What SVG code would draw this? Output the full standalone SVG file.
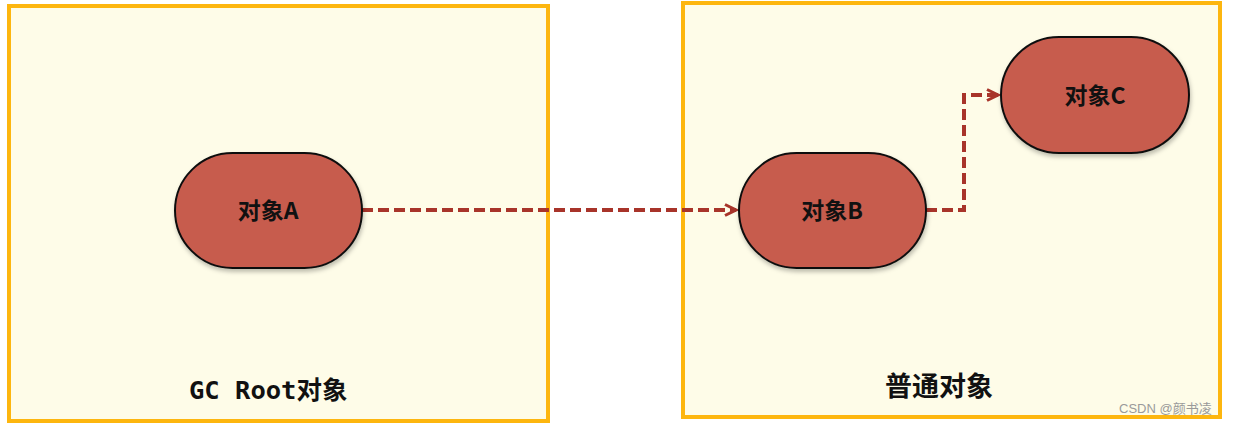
<svg xmlns="http://www.w3.org/2000/svg" width="1234" height="424" viewBox="0 0 1234 424">
<style>
.box{fill:#FEFCE8;stroke:#FDB60F;stroke-width:4}
.node{fill:#C75B4E;stroke:#111;stroke-width:2}
.nt{font-family:"Noto Sans CJK SC","DejaVu Sans",sans-serif;font-weight:bold;font-size:23px;fill:#111;text-anchor:middle}
.title{font-family:"DejaVu Sans Mono","Noto Sans CJK SC",monospace;font-weight:bold;font-size:25.5px;fill:#111}
.title2{font-family:"Noto Sans CJK SC",sans-serif;font-weight:bold;font-size:27px;fill:#111}
.edge{fill:none;stroke:#A8342A;stroke-width:4;stroke-dasharray:11 5}
.wm{font-family:"Liberation Sans","Noto Sans CJK SC",sans-serif;font-size:13px;fill:#9a9a9a}
</style>
<defs>
<marker id="arr" viewBox="0 0 14 14" refX="12.5" refY="7" markerWidth="14" markerHeight="14" markerUnits="userSpaceOnUse" orient="auto">
<path d="M1.5,1.5 L12.5,7 L1.5,12.5" fill="none" stroke="#A8342A" stroke-width="3"/>
</marker>
<filter id="sh" x="-10%" y="-10%" width="130%" height="130%">
<feDropShadow dx="1" dy="3" stdDeviation="2" flood-color="#000" flood-opacity="0.25"/>
</filter>
</defs>
<rect width="1234" height="424" fill="#fff"/>
<g id="rootGroup">
<rect class="box" x="9" y="6" width="539" height="415"/>
<text class="title" x="189" y="399">GC Root对象</text>
</g>
<g id="normalGroup">
<rect class="box" x="683" y="3" width="537" height="414"/>
<text class="title2" x="885" y="396">普通对象</text>
</g>
<g id="connectors">
<path class="edge" d="M362,210 L736,210" marker-end="url(#arr)"/>
<path class="edge" d="M926,210 L964,210 L964,95 L998,95" marker-end="url(#arr)"/>
</g>
<g id="nodeA">
<rect class="node" filter="url(#sh)" x="175" y="153" width="187" height="115" rx="57.5"/>
<text class="nt" x="268" y="219">对象A</text>
</g>
<g id="nodeB">
<rect class="node" filter="url(#sh)" x="739" y="153" width="187" height="115" rx="57.5"/>
<text class="nt" x="832" y="219">对象B</text>
</g>
<g id="nodeC">
<rect class="node" filter="url(#sh)" x="1001" y="37" width="188" height="116" rx="58"/>
<text class="nt" x="1095" y="104">对象C</text>
</g>
<text class="wm" x="1119" y="413">CSDN @颜书凌</text>
</svg>
